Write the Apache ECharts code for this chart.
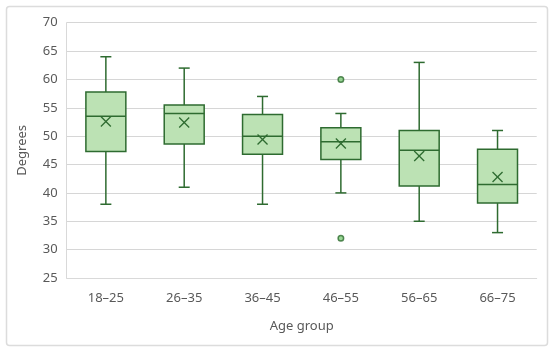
<!DOCTYPE html>
<html>
<head>
<meta charset="utf-8">
<script src="https://cdn.jsdelivr.net/npm/echarts@6/dist/echarts.min.js"></script>
<style>html,body{margin:0;padding:0;background:#fff}#c{width:550px;height:349px}</style>
</head>
<body>
<div id="c"></div>
<script>
const categories = ['18–25','26–35','36–45','46–55','56–65','66–75'];
const whiskerLow = [38, 41, 38, 40, 35, 33];
const q1 = [47.3, 48.6, 46.8, 45.9, 41.2, 38.2];
const median = [53.5, 54, 50, 49, 47.5, 41.5];
const q3 = [57.8, 55.5, 53.8, 51.5, 51, 47.7];
const whiskerHigh = [64, 62, 57, 54, 63, 51];
const mean = [52.6, 52.4, 49.4, 48.7, 46.5, 42.8];
const outliers = [[3, 60], [3, 32]];
const yTicks = {min: 25, max: 70, interval: 5};

const fill = '#bce2b4';
const stroke = '#2e6b30';
const font = 'Noto Sans';

const boxData = categories.map((c, i) => [i, whiskerLow[i], q1[i], median[i], q3[i], whiskerHigh[i], mean[i]]);

function renderItem(params, api) {
  const i = api.value(0);
  const x = api.coord([i, 0])[0];
  const band = api.size([1, 0])[0];
  const bw = band * 0.51;
  const cap = 5.5;
  const yLo = api.coord([i, api.value(1)])[1];
  const yQ1 = api.coord([i, api.value(2)])[1];
  const yMed = api.coord([i, api.value(3)])[1];
  const yQ3 = api.coord([i, api.value(4)])[1];
  const yHi = api.coord([i, api.value(5)])[1];
  const yMean = api.coord([i, api.value(6)])[1];
  const ls = {stroke: stroke, lineWidth: 1.5};
  const m = 5;
  return {
    type: 'group',
    children: [
      {type: 'line', shape: {x1: x, y1: yHi, x2: x, y2: yQ3}, style: ls},
      {type: 'line', shape: {x1: x, y1: yQ1, x2: x, y2: yLo}, style: ls},
      {type: 'line', shape: {x1: x - cap, y1: yHi, x2: x + cap, y2: yHi}, style: ls},
      {type: 'line', shape: {x1: x - cap, y1: yLo, x2: x + cap, y2: yLo}, style: ls},
      {type: 'rect', shape: {x: x - bw / 2, y: yQ3, width: bw, height: yQ1 - yQ3}, style: {fill: fill, stroke: stroke, lineWidth: 1.5}},
      {type: 'line', shape: {x1: x - bw / 2, y1: yMed, x2: x + bw / 2, y2: yMed}, style: ls},
      {type: 'line', shape: {x1: x - m, y1: yMean - m, x2: x + m, y2: yMean + m}, style: {stroke: stroke, lineWidth: 1.3}},
      {type: 'line', shape: {x1: x - m, y1: yMean + m, x2: x + m, y2: yMean - m}, style: {stroke: stroke, lineWidth: 1.3}}
    ]
  };
}

const chart = echarts.init(document.getElementById('c'), null, {renderer: 'canvas'});
chart.setOption({
  animation: false,
  backgroundColor: '#fff',
  textStyle: {fontFamily: font},
  graphic: [{
    type: 'rect', left: 4, top: 4, silent: true,
    shape: {width: 541, height: 339, r: 3},
    style: {fill: 'none', stroke: '#dcdcdc', lineWidth: 1.5}
  }],
  grid: {left: 66.7, right: 13.3, top: 22.7, bottom: 71},
  xAxis: {
    type: 'category',
    data: categories,
    name: 'Age group',
    nameLocation: 'middle',
    nameGap: 42,
    nameTextStyle: {color: '#595959', fontSize: 13, fontFamily: font},
    axisLine: {show: true, lineStyle: {color: '#d9d9d9'}},
    axisTick: {show: false},
    axisLabel: {color: '#595959', fontSize: 13, margin: 14, fontFamily: font},
    splitLine: {show: false}
  },
  yAxis: {
    type: 'value',
    min: yTicks.min, max: yTicks.max, interval: yTicks.interval,
    name: 'Degrees',
    nameLocation: 'middle',
    nameGap: 38,
    nameTextStyle: {color: '#595959', fontSize: 13, fontFamily: font},
    axisLine: {show: true, lineStyle: {color: '#d9d9d9'}},
    axisTick: {show: false},
    axisLabel: {color: '#595959', fontSize: 13, margin: 9, fontFamily: font},
    splitLine: {show: true, lineStyle: {color: '#d6d6d6', width: 1.2}}
  },
  series: [
    {
      type: 'custom',
      renderItem: renderItem,
      data: boxData,
      encode: {x: 0, y: [1, 2, 3, 4, 5, 6]},
      clip: false
    },
    {
      type: 'scatter',
      data: outliers,
      symbol: 'circle',
      symbolSize: 5.5,
      itemStyle: {color: '#7fcc7a', borderColor: stroke, borderWidth: 1.5},
      z: 5
    }
  ]
});
</script>
</body>
</html>
